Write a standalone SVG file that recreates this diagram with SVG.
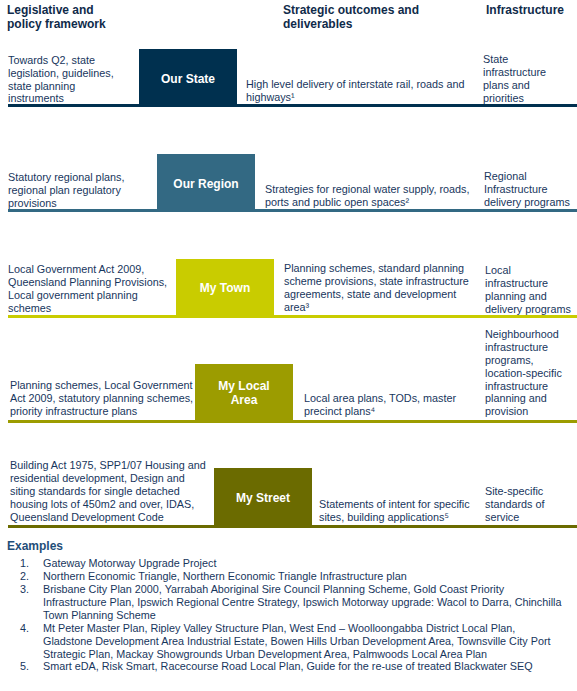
<svg xmlns="http://www.w3.org/2000/svg" width="577" height="691" viewBox="0 0 577 691">
<style>
text{font-family:"Liberation Sans",Arial,sans-serif;font-size:10.8px;fill:#17365d}
.h{font-size:12px;font-weight:bold;fill:#0f2b4a}
.b{font-size:12px;font-weight:bold;fill:#ffffff;text-anchor:middle}
.ex{font-size:12px;font-weight:bold;fill:#1f4e79}
</style>
<rect width="577" height="691" fill="#ffffff"/>
<g id="headers">
<text class="h" x="7" y="14">Legislative and</text>
<text class="h" x="7" y="28">policy framework</text>
<text class="h" x="283" y="14">Strategic outcomes and</text>
<text class="h" x="283" y="28">deliverables</text>
<text class="h" x="486" y="14">Infrastructure</text>
</g>
<g id="connectors">
<rect x="8" y="104" width="569" height="3" fill="#00304f"/>
<rect x="8" y="209" width="569" height="3" fill="#336983"/>
<rect x="8" y="315" width="569" height="3" fill="#c9cc00"/>
<rect x="8" y="420" width="569" height="3" fill="#9c9c00"/>
<rect x="8" y="525" width="569" height="3" fill="#6b6b00"/>
</g>
<g id="our-state">
<rect x="139" y="49" width="98" height="56" fill="#00304f"/>
<text class="b" x="188" y="83">Our State</text>
<text x="8" y="64">Towards Q2, state</text>
<text x="8" y="77">legislation, guidelines,</text>
<text x="8" y="89.5">state planning</text>
<text x="8" y="102">instruments</text>
<text x="246" y="88">High level delivery of interstate rail, roads and</text>
<text x="246" y="101">highways¹</text>
<text x="483" y="63">State</text>
<text x="483" y="76">infrastructure</text>
<text x="483" y="89">plans and</text>
<text x="483" y="102">priorities</text>
</g>
<g id="our-region">
<rect x="157" y="154" width="98" height="56" fill="#336983"/>
<text class="b" x="206" y="188">Our Region</text>
<text x="8" y="181">Statutory regional plans,</text>
<text x="8" y="194">regional plan regulatory</text>
<text x="8" y="207">provisions</text>
<text x="265" y="193">Strategies for regional water supply, roads,</text>
<text x="265" y="206">ports and public open spaces²</text>
<text x="484" y="180">Regional</text>
<text x="484" y="193">Infrastructure</text>
<text x="484" y="206">delivery programs</text>
</g>
<g id="my-town">
<rect x="176" y="259" width="98" height="57" fill="#c9cc00"/>
<text class="b" x="225" y="292">My Town</text>
<text x="8" y="273">Local Government Act 2009,</text>
<text x="8" y="286">Queensland Planning Provisions,</text>
<text x="8" y="299">Local government planning</text>
<text x="8" y="312">schemes</text>
<text x="284" y="272">Planning schemes, standard planning</text>
<text x="284" y="285">scheme provisions, state infrastructure</text>
<text x="284" y="298">agreements, state and development</text>
<text x="284" y="311">area³</text>
<text x="485" y="274">Local</text>
<text x="485" y="287">infrastructure</text>
<text x="485" y="300">planning and</text>
<text x="485" y="313">delivery programs</text>
</g>
<g id="my-local-area">
<rect x="195" y="364" width="98" height="57" fill="#9c9c00"/>
<text class="b" x="244" y="390">My Local</text>
<text class="b" x="244" y="404">Area</text>
<text x="10" y="389">Planning schemes, Local Government</text>
<text x="10" y="402">Act 2009, statutory planning schemes,</text>
<text x="10" y="415">priority infrastructure plans</text>
<text x="304" y="402">Local area plans, TODs, master</text>
<text x="304" y="415">precinct plans⁴</text>
<text x="485" y="338">Neighbourhood</text>
<text x="485" y="351">infrastructure</text>
<text x="485" y="364">programs,</text>
<text x="485" y="377">location-specific</text>
<text x="485" y="390">infrastructure</text>
<text x="485" y="402">planning and</text>
<text x="485" y="415">provision</text>
</g>
<g id="my-street">
<rect x="214" y="468" width="98" height="58" fill="#6b6b00"/>
<text class="b" x="263" y="502">My Street</text>
<text x="10" y="469">Building Act 1975, SPP1/07 Housing and</text>
<text x="10" y="482">residential development, Design and</text>
<text x="10" y="495">siting standards for single detached</text>
<text x="10" y="508">housing lots of 450m2 and over, IDAS,</text>
<text x="10" y="521">Queensland Development Code</text>
<text x="319" y="508">Statements of intent for specific</text>
<text x="319" y="521">sites, building applications⁵</text>
<text x="485" y="495">Site-specific</text>
<text x="485" y="508">standards of</text>
<text x="485" y="521">service</text>
</g>
<g id="examples">
<text class="ex" x="7" y="550">Examples</text>
<text x="20" y="567">1.</text>
<text x="43" y="567">Gateway Motorway Upgrade Project</text>
<text x="20" y="580">2.</text>
<text x="43" y="580">Northern Economic Triangle, Northern Economic Triangle Infrastructure plan</text>
<text x="20" y="593">3.</text>
<text x="43" y="593">Brisbane City Plan 2000, Yarrabah Aboriginal Sire Council Planning Scheme, Gold Coast Priority</text>
<text x="43" y="606">Infrastructure Plan, Ipswich Regional Centre Strategy, Ipswich Motorway upgrade: Wacol to Darra, Chinchilla</text>
<text x="43" y="619">Town Planning Scheme</text>
<text x="20" y="632">4.</text>
<text x="43" y="632">Mt Peter Master Plan, Ripley Valley Structure Plan, West End – Woolloongabba District Local Plan,</text>
<text x="43" y="645">Gladstone Development Area Industrial Estate, Bowen Hills Urban Development Area, Townsville City Port</text>
<text x="43" y="658">Strategic Plan, Mackay Showgrounds Urban Development Area, Palmwoods Local Area Plan</text>
<text x="20" y="670">5.</text>
<text x="43" y="670">Smart eDA, Risk Smart, Racecourse Road Local Plan, Guide for the re-use of treated Blackwater SEQ</text>
</g>
</svg>
